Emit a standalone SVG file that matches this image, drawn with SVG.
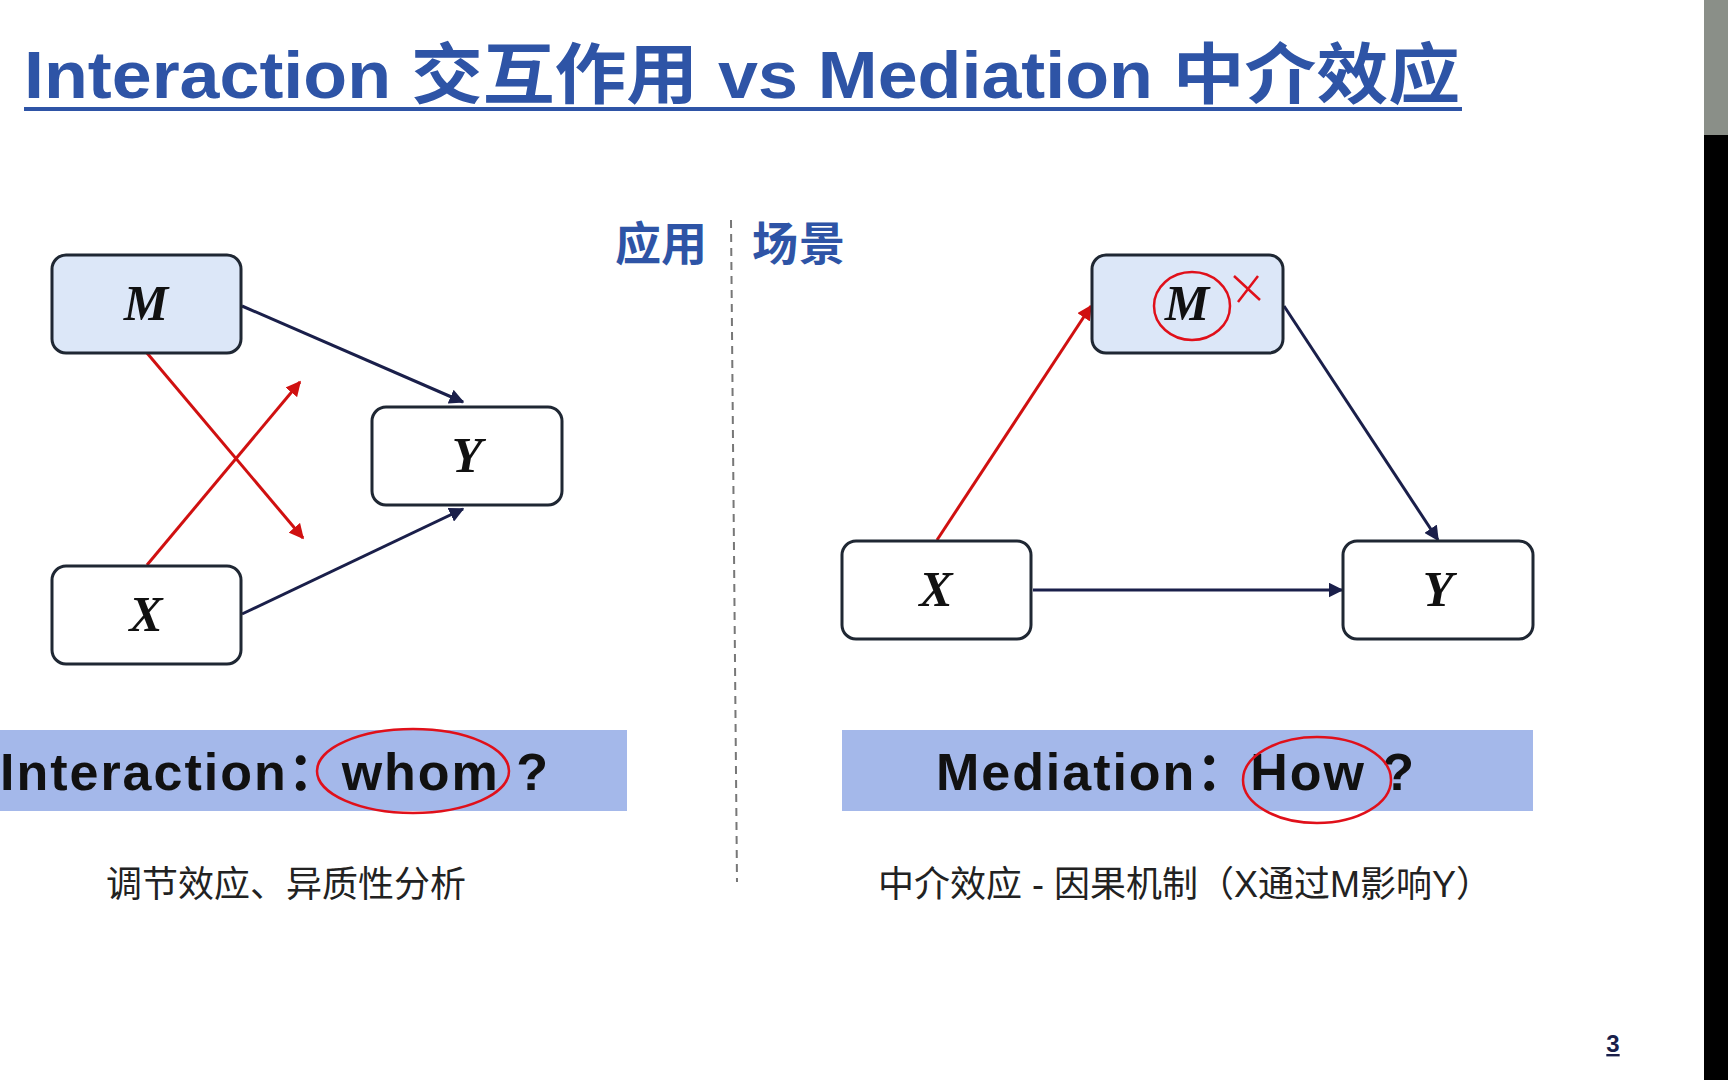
<svg xmlns="http://www.w3.org/2000/svg" width="1728" height="1080" viewBox="0 0 1728 1080">
<style>
.box{fill:#fff;stroke:#1f2733;stroke-width:3}
.hl{fill:#dce7f8}
.lbl{font-family:"Liberation Serif",serif;font-style:italic;font-weight:bold;font-size:50px;fill:#111;text-anchor:middle}
.dk{stroke:#1a1f4a;stroke-width:3;fill:none;marker-end:url(#ad)}
.rd{stroke:#d01010;stroke-width:3;fill:none;marker-end:url(#ar)}
.ban{font-family:"Liberation Sans","Noto Sans CJK SC",sans-serif;font-weight:bold;font-size:52px;fill:#111}
.sub{font-family:"Liberation Sans","Noto Sans CJK SC",sans-serif;font-size:36px;fill:#222}
.ann{fill:none;stroke:#e0101a;stroke-width:2.5}
</style>
<defs>
<marker id="ad" viewBox="0 0 10 10" refX="9" refY="5" markerWidth="5" markerHeight="5" orient="auto"><path d="M0,0L10,5L0,10z" fill="#1a1f4a"/></marker>
<marker id="ar" viewBox="0 0 10 10" refX="9" refY="5" markerWidth="5" markerHeight="5" orient="auto"><path d="M0,0L10,5L0,10z" fill="#d01010"/></marker>
</defs>
<rect width="1728" height="1080" fill="#fff"/>
<rect x="1704" y="0" width="24" height="1080" fill="#000"/>
<rect x="1704" y="0" width="24" height="135" fill="#8a8f88"/>
<text x="24" y="98" textLength="1436" lengthAdjust="spacingAndGlyphs" font-family="Liberation Sans,'Noto Sans CJK SC',sans-serif" font-weight="bold" font-size="66" fill="#2e54a6">Interaction 交互作用 vs Mediation 中介效应</text>
<rect x="24" y="107" width="1438" height="4" fill="#2e54a6"/>
<g id="connectors">
<line class="dk" x1="242" y1="306" x2="463" y2="402"/>
<line class="dk" x1="242" y1="614" x2="463" y2="509"/>
<line class="rd" x1="147" y1="353" x2="303" y2="538"/>
<line class="rd" x1="147" y1="565" x2="300" y2="382"/>
<line class="rd" x1="937" y1="540" x2="1091" y2="306"/>
<line class="dk" x1="1284" y1="306" x2="1438" y2="540"/>
<line class="dk" x1="1033" y1="590" x2="1342" y2="590"/>
</g>
<g id="L-M"><rect class="box hl" x="52" y="255" width="189" height="98" rx="14"/><text class="lbl" x="146" y="320">M</text></g>
<g id="L-Y"><rect class="box" x="372" y="407" width="190" height="98" rx="14"/><text class="lbl" x="467" y="472">Y</text></g>
<g id="L-X"><rect class="box" x="52" y="566" width="189" height="98" rx="14"/><text class="lbl" x="146" y="631">X</text></g>
<g id="R-M"><rect class="box hl" x="1092" y="255" width="191" height="98" rx="14"/><text class="lbl" x="1187" y="320">M</text></g>
<g id="R-X"><rect class="box" x="842" y="541" width="189" height="98" rx="14"/><text class="lbl" x="936" y="606">X</text></g>
<g id="R-Y"><rect class="box" x="1343" y="541" width="190" height="98" rx="14"/><text class="lbl" x="1438" y="606">Y</text></g>
<line x1="731" y1="220" x2="737" y2="882" stroke="#777" stroke-width="2" stroke-dasharray="8,6"/>
<text x="615" y="260" textLength="92" font-family="'Noto Sans CJK SC',sans-serif" font-weight="bold" font-size="46" fill="#2e54a6">应用</text>
<text x="752" y="260" textLength="93" font-family="'Noto Sans CJK SC',sans-serif" font-weight="bold" font-size="46" fill="#2e54a6">场景</text>
<rect x="0" y="730" width="627" height="81" fill="#a4b8ea"/>
<rect x="842" y="730" width="691" height="81" fill="#a4b8ea"/>
<text class="ban" x="0" y="790" textLength="548">Interaction：whom ?</text>
<text class="ban" x="936" y="790" textLength="478">Mediation：How ?</text>
<text class="sub" x="106" y="897">调节效应、异质性分析</text>
<text class="sub" x="878" y="897">中介效应 - 因果机制（X通过M影响Y）</text>
<ellipse class="ann" cx="413" cy="771" rx="96" ry="42"/>
<ellipse class="ann" cx="1317" cy="780" rx="74" ry="43"/>
<ellipse class="ann" cx="1192" cy="306" rx="38" ry="34"/>
<path class="ann" d="M1234,276L1260,300M1258,276L1238,302"/>
<text x="1613" y="1052" font-family="Liberation Sans,sans-serif" font-weight="bold" font-size="24" fill="#1a1f4a" text-anchor="middle" text-decoration="underline">3</text>
</svg>
